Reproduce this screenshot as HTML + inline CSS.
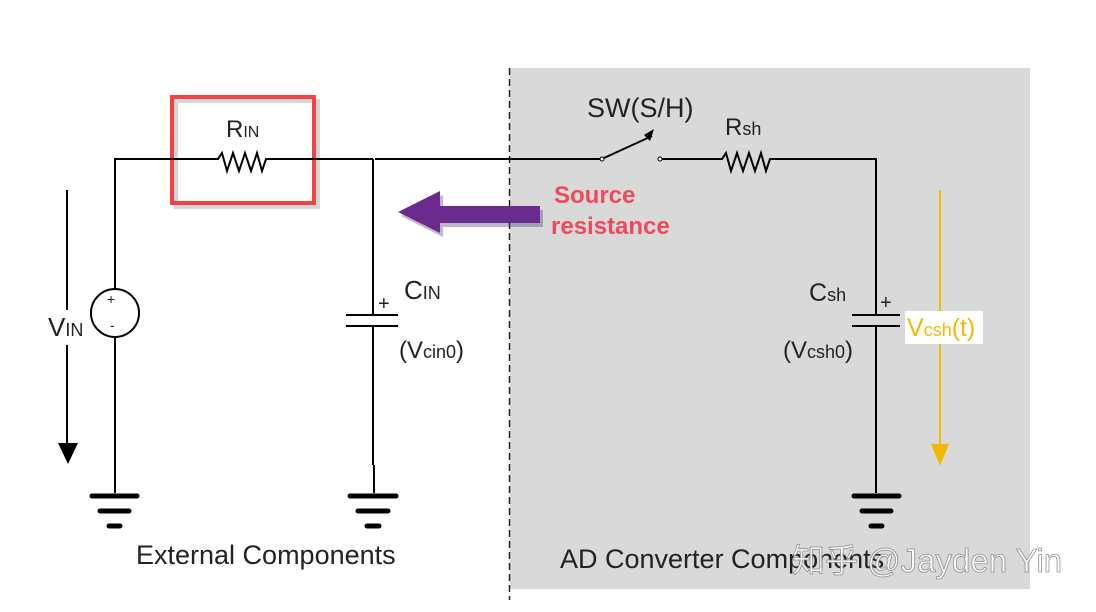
<!DOCTYPE html>
<html><head><meta charset="utf-8"><style>
html,body{margin:0;padding:0;background:#fff;}
svg{display:block;}
text{font-family:"Liberation Sans","Noto Sans CJK SC",sans-serif;}
</style></head><body>
<svg width="1096" height="612" viewBox="0 0 1096 612" xmlns="http://www.w3.org/2000/svg">
<rect x="510" y="68" width="520" height="521" fill="#d9d9d9"/>
<line x1="509.5" y1="68" x2="509.5" y2="600" stroke="#222" stroke-width="1.5" stroke-dasharray="7,4"/>
<rect x="176" y="101" width="142" height="106" fill="none" stroke="#bbb" stroke-width="4" opacity="0.6"/>
<rect x="172" y="97" width="142" height="106" fill="none" stroke="#ef4444" stroke-width="4"/>
<g stroke="#000" stroke-width="2" fill="none">
<polyline points="115,290 115,159 218,159 222,153 227,171 233,153 239,171 245,153 251,171 257,153 262,171 266,159 373,159"/>
<polyline points="375,159 602,159"/>
<line x1="604" y1="158" x2="652" y2="136"/>
<polyline points="660,159 722,159 726,153 731,171 737,153 743,171 749,153 755,171 761,153 766,171 770,159 876,159 876,315"/>
<circle cx="115" cy="313" r="24"/>
<line x1="115" y1="337" x2="115" y2="493"/>
<line x1="373" y1="159" x2="373" y2="315"/>
<line x1="373" y1="326" x2="373" y2="465"/>
<line x1="374" y1="465" x2="374" y2="493"/>
<line x1="346" y1="315" x2="398" y2="315"/>
<line x1="346" y1="326" x2="398" y2="326"/>
<line x1="876" y1="326" x2="876" y2="493"/>
<line x1="852" y1="315" x2="900" y2="315"/>
<line x1="852" y1="326" x2="900" y2="326"/>
<line x1="67" y1="190" x2="67" y2="310"/>
<line x1="67" y1="345" x2="67" y2="445"/>
</g>
<polygon points="644,135 654,129 650,141" fill="#000"/>
<circle cx="602" cy="159" r="2" fill="#fff" stroke="#000"/>
<circle cx="660" cy="159" r="2" fill="#fff" stroke="#000"/>
<polygon points="58,443 78,443 68,464" fill="#000"/>
<g stroke="#000" stroke-linecap="round">
<line x1="92" y1="496" x2="137" y2="496" stroke-width="5"/>
<line x1="100" y1="511" x2="129" y2="511" stroke-width="5"/>
<line x1="109" y1="526" x2="120" y2="526" stroke-width="5"/>
<line x1="350" y1="496" x2="396" y2="496" stroke-width="5"/>
<line x1="358" y1="511" x2="388" y2="511" stroke-width="5"/>
<line x1="367" y1="526" x2="379" y2="526" stroke-width="5"/>
<line x1="854" y1="496" x2="899" y2="496" stroke-width="5"/>
<line x1="862" y1="511" x2="891" y2="511" stroke-width="5"/>
<line x1="871" y1="526" x2="882" y2="526" stroke-width="5"/>
</g>
<line x1="940" y1="190" x2="940" y2="447" stroke="#f5b800" stroke-width="2"/>
<polygon points="931,444 949,444 940,466" fill="#f5b800"/>
<polygon points="440,206 540,206 540,223 440,223 440,233 398,212 440,191" fill="#4b2a6b" opacity="0.35" transform="translate(3,4)"/>
<polygon points="440,206 540,206 540,223 440,223 440,233 398,212 440,191" fill="#6b2a8e"/>
<text x="226" y="137" font-size="24" fill="#222">R<tspan font-size="16">IN</tspan></text>
<text x="107" y="304" font-size="14" fill="#222">+</text>
<text x="110" y="330" font-size="14" fill="#222">-</text>
<text x="48" y="336" font-size="26" fill="#222">V<tspan font-size="18">IN</tspan></text>
<text x="378" y="310" font-size="20" fill="#222">+</text>
<text x="404" y="299" font-size="26" fill="#222">C<tspan font-size="18">IN</tspan></text>
<text x="399" y="358" font-size="24" fill="#222">(V<tspan font-size="18">cin0</tspan>)</text>
<text x="587" y="117" font-size="27" fill="#222">SW(S/H)</text>
<text x="725" y="135" font-size="24" fill="#222">R<tspan font-size="18">sh</tspan></text>
<text x="554" y="203" font-size="24" font-weight="bold" fill="#ef4a5a">Source</text>
<text x="551" y="234" font-size="24" font-weight="bold" fill="#ef4a5a">resistance</text>
<text x="809" y="301" font-size="25" fill="#222">C<tspan font-size="18">sh</tspan></text>
<text x="880" y="309" font-size="20" fill="#222">+</text>
<text x="783" y="358" font-size="24" fill="#222">(V<tspan font-size="18">csh0</tspan>)</text>
<rect x="905" y="311" width="78" height="33" fill="#fff"/>
<text x="907" y="336" font-size="25" fill="#f5b800">V<tspan font-size="18">csh</tspan>(t)</text>
<text x="136" y="564" font-size="27" fill="#222">External Components</text>
<text x="560" y="568" font-size="27" fill="#222">AD Converter Components</text>
<text x="792" y="572" font-size="33" fill="#fff" stroke="#888" stroke-width="0.8" opacity="0.9">知乎 @Jayden Yin</text>
</svg>
</body></html>
